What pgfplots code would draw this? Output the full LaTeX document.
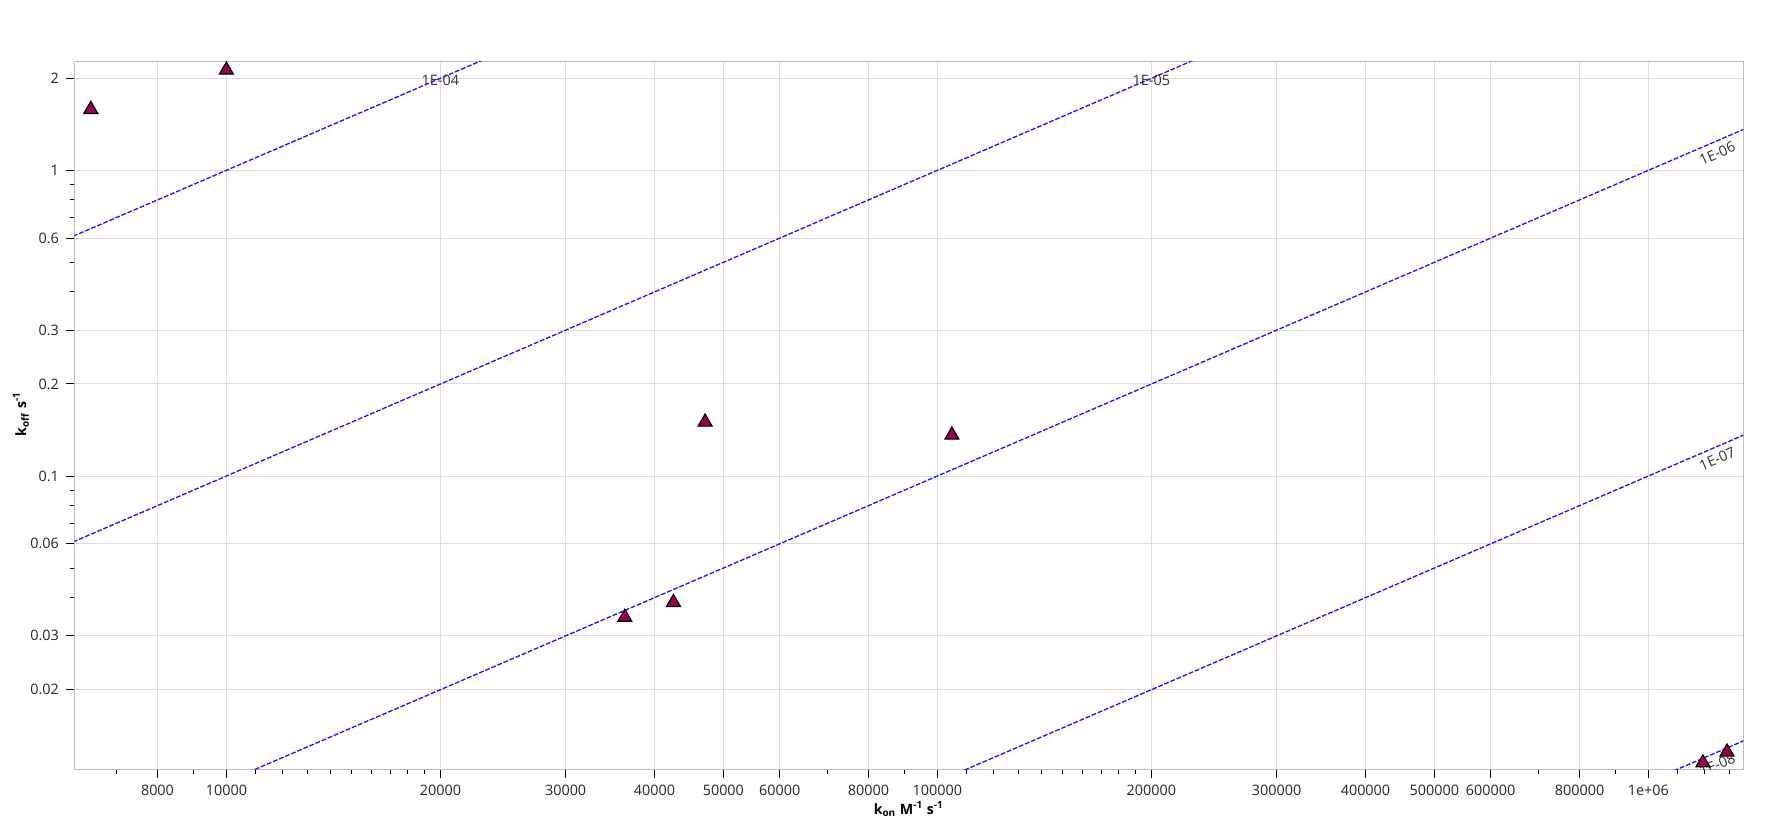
\documentclass[border=0pt]{standalone}
\usepackage{fontspec}
\setmainfont{Open Sans}
\usepackage{pgfplots}
\pgfplotsset{compat=1.18}
\definecolor{gridc}{RGB}{221,221,221}
\definecolor{framec}{RGB}{190,190,190}
\definecolor{markc}{RGB}{158,0,78}
\definecolor{kdc}{RGB}{20,20,255}
\definecolor{lblc}{RGB}{50,50,50}
\begin{document}
\begin{tikzpicture}
\useasboundingbox (0,0) rectangle (890.5pt,409pt);
\begin{axis}[
  at={(37.15pt,24.35pt)}, anchor=south west,
  scale only axis, width=834.5pt, height=354pt,
  xmode=log, ymode=log,
  xmin=6112, xmax=1.36e6, ymin=0.01098, ymax=2.273,
  xtick={8000,10000,20000,30000,40000,50000,60000,80000,100000,200000,300000,400000,500000,600000,800000,1000000},
  xticklabels={8000,10000,20000,30000,40000,50000,60000,80000,100000,200000,300000,400000,500000,600000,800000,1e+06},
  minor xtick={7000,9000,11000,12000,13000,14000,15000,16000,17000,18000,19000,70000,90000,110000,120000,130000,140000,150000,160000,170000,180000,190000,700000,900000,1100000,1200000,1300000},
  ytick={0.02,0.03,0.06,0.1,0.2,0.3,0.6,1,2},
  yticklabels={0.02,0.03,0.06,0.1,0.2,0.3,0.6,1,2},
  minor ytick={0.04,0.05,0.07,0.08,0.09,0.4,0.5,0.7,0.8,0.9},
  grid=major,
  major grid style={gridc, line width=0.5pt},
  tick align=outside, tick pos=left,
  major tick length=4.2pt, minor tick length=2.2pt,
  every tick/.style={black, line width=0.5pt},
  axis line style={framec, line width=0.6pt},
  ticklabel style={font=\fontsize{7.2}{8.6}\selectfont, text=black!85},
]
\addplot[kdc, line width=0.65pt, dash pattern=on 2.4pt off 0.9pt] coordinates {(5000,0.5) (1500000,150)};
\addplot[kdc, line width=0.65pt, dash pattern=on 2.4pt off 0.9pt] coordinates {(5000,0.05) (1500000,15)};
\addplot[kdc, line width=0.65pt, dash pattern=on 2.4pt off 0.9pt] coordinates {(5000,0.005) (1500000,1.5)};
\addplot[kdc, line width=0.65pt, dash pattern=on 2.4pt off 0.9pt] coordinates {(5000,0.0005) (1500000,0.15)};
\addplot[kdc, line width=0.65pt, dash pattern=on 2.4pt off 0.9pt] coordinates {(5000,0.00005) (1500000,0.015)};
\node[font=\fontsize{7.2}{8.6}\selectfont, text=lblc] at (axis cs:20000,1.975) {1E-04};
\node[font=\fontsize{7.2}{8.6}\selectfont, text=lblc] at (axis cs:200000,1.975) {1E-05};
\node[font=\fontsize{7.2}{8.6}\selectfont, text=lblc, rotate=23.3] at (axis cs:1250000,1.1375) {1E-06};
\node[font=\fontsize{7.2}{8.6}\selectfont, text=lblc, rotate=23.3] at (axis cs:1250000,0.11375) {1E-07};
\node[font=\fontsize{7.2}{8.6}\selectfont, text=lblc, rotate=23.3] at (axis cs:1250000,0.011375) {1E-08};
\addplot[only marks, mark=triangle*, mark size=4pt, mark options={fill=markc, draw=black, line width=0.6pt}] coordinates {
(6447,1.582) (10000,2.128) (47130,0.1502) (104800,0.1361) (36340,0.0345) (42540,0.0386) (1193000,0.01153) (1290000,0.01251)
};
\end{axis}
\node[anchor=base, font=\bfseries\fontsize{7.1}{9}\selectfont] at (454.4pt,1.9pt) {k\textsubscript{on} M\textsuperscript{-1} s\textsuperscript{-1}};
\node[anchor=base, rotate=90, font=\bfseries\fontsize{7.1}{9}\selectfont] at (13pt,202pt) {k\textsubscript{off} s\textsuperscript{-1}};
\end{tikzpicture}
\end{document}
